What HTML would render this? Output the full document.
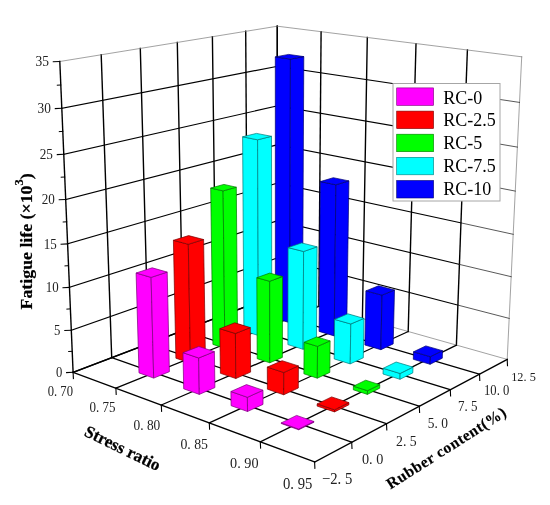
<!DOCTYPE html>
<html><head><meta charset="utf-8"><title>Fatigue life chart</title>
<style>
html,body{margin:0;padding:0;background:#fff;}
body{width:550px;height:505px;overflow:hidden;}
svg{display:block;font-family:'Liberation Serif','Noto Serif CJK SC',serif;}
</style></head><body>
<svg width="550" height="505" viewBox="0 0 550 505">
<rect width="550" height="505" fill="#fff"/>
<g stroke-linecap="square">
<line x1="73.1" y1="372.3" x2="59.8" y2="61.5" stroke="#000" stroke-width="1.4"/>
<line x1="111.7" y1="357.6" x2="101.2" y2="54.7" stroke="#000" stroke-width="1.4"/>
<line x1="148.3" y1="343.7" x2="140.3" y2="48.4" stroke="#000" stroke-width="1.4"/>
<line x1="183.0" y1="330.5" x2="177.3" y2="42.4" stroke="#000" stroke-width="1.4"/>
<line x1="216.0" y1="317.9" x2="212.4" y2="36.7" stroke="#000" stroke-width="1.4"/>
<line x1="247.4" y1="306.0" x2="245.7" y2="31.3" stroke="#000" stroke-width="1.4"/>
<line x1="277.3" y1="294.6" x2="277.3" y2="26.2" stroke="#000" stroke-width="1.4"/>
<line x1="73.1" y1="372.3" x2="277.3" y2="294.6" stroke="#000" stroke-width="1.3"/>
<line x1="71.3" y1="330.2" x2="277.3" y2="258.0" stroke="#000" stroke-width="1.15"/>
<line x1="69.5" y1="287.4" x2="277.3" y2="220.8" stroke="#000" stroke-width="1.15"/>
<line x1="67.6" y1="243.9" x2="277.3" y2="183.1" stroke="#000" stroke-width="1.15"/>
<line x1="65.7" y1="199.5" x2="277.3" y2="144.8" stroke="#000" stroke-width="1.15"/>
<line x1="63.8" y1="154.3" x2="277.3" y2="105.9" stroke="#000" stroke-width="1.15"/>
<line x1="61.8" y1="108.3" x2="277.3" y2="66.3" stroke="#000" stroke-width="1.15"/>
<line x1="59.8" y1="61.5" x2="277.3" y2="26.2" stroke="#7a7a7a" stroke-width="0.7"/>
<line x1="277.3" y1="294.6" x2="277.3" y2="26.2" stroke="#000" stroke-width="1.4"/>
<line x1="318.8" y1="306.3" x2="321.1" y2="31.7" stroke="#000" stroke-width="1.4"/>
<line x1="362.4" y1="318.6" x2="367.3" y2="37.5" stroke="#000" stroke-width="1.4"/>
<line x1="408.2" y1="331.5" x2="416.0" y2="43.6" stroke="#000" stroke-width="1.4"/>
<line x1="456.4" y1="345.1" x2="467.4" y2="50.0" stroke="#000" stroke-width="1.4"/>
<line x1="507.2" y1="359.4" x2="521.7" y2="56.8" stroke="#7a7a7a" stroke-width="0.7"/>
<line x1="277.3" y1="258.0" x2="457.9" y2="305.1" stroke="#000" stroke-width="1.1"/>
<line x1="457.9" y1="305.1" x2="509.2" y2="318.4" stroke="#222" stroke-width="0.75"/>
<line x1="277.3" y1="220.8" x2="459.4" y2="264.4" stroke="#000" stroke-width="1.1"/>
<line x1="459.4" y1="264.4" x2="511.2" y2="276.7" stroke="#222" stroke-width="0.75"/>
<line x1="277.3" y1="183.1" x2="461.0" y2="222.9" stroke="#000" stroke-width="1.1"/>
<line x1="461.0" y1="222.9" x2="513.2" y2="234.3" stroke="#222" stroke-width="0.75"/>
<line x1="277.3" y1="144.8" x2="462.5" y2="180.8" stroke="#000" stroke-width="1.1"/>
<line x1="462.5" y1="180.8" x2="515.3" y2="191.1" stroke="#222" stroke-width="0.75"/>
<line x1="277.3" y1="105.9" x2="464.1" y2="138.0" stroke="#000" stroke-width="1.1"/>
<line x1="464.1" y1="138.0" x2="517.4" y2="147.1" stroke="#222" stroke-width="0.75"/>
<line x1="277.3" y1="66.3" x2="465.7" y2="94.4" stroke="#000" stroke-width="1.1"/>
<line x1="465.7" y1="94.4" x2="519.5" y2="102.4" stroke="#222" stroke-width="0.75"/>
<line x1="277.3" y1="26.2" x2="521.7" y2="56.8" stroke="#7a7a7a" stroke-width="0.7"/>
<line x1="277.3" y1="294.6" x2="507.2" y2="359.4" stroke="#7a7a7a" stroke-width="0.7"/>
<line x1="73.1" y1="372.3" x2="277.3" y2="294.6" stroke="#000" stroke-width="1.3"/>
<line x1="115.9" y1="388.2" x2="318.8" y2="306.3" stroke="#000" stroke-width="1.3"/>
<line x1="161.3" y1="405.0" x2="362.4" y2="318.6" stroke="#000" stroke-width="1.3"/>
<line x1="209.3" y1="422.9" x2="408.2" y2="331.5" stroke="#000" stroke-width="1.3"/>
<line x1="260.3" y1="441.8" x2="456.4" y2="345.1" stroke="#000" stroke-width="1.3"/>
<line x1="314.6" y1="462.0" x2="507.2" y2="359.4" stroke="#000" stroke-width="1.3"/>
<line x1="73.1" y1="372.3" x2="314.6" y2="462.0" stroke="#000" stroke-width="1.3"/>
<line x1="111.7" y1="357.6" x2="351.7" y2="442.2" stroke="#000" stroke-width="1.3"/>
<line x1="148.3" y1="343.7" x2="386.5" y2="423.7" stroke="#000" stroke-width="1.3"/>
<line x1="183.0" y1="330.5" x2="419.3" y2="406.2" stroke="#000" stroke-width="1.3"/>
<line x1="216.0" y1="317.9" x2="450.3" y2="389.7" stroke="#000" stroke-width="1.3"/>
<line x1="247.4" y1="306.0" x2="479.5" y2="374.2" stroke="#000" stroke-width="1.3"/>
<line x1="73.1" y1="372.3" x2="66.6" y2="372.6" stroke="#000" stroke-width="1.1"/>
<line x1="72.2" y1="351.3" x2="68.7" y2="351.5" stroke="#000" stroke-width="1.0"/>
<line x1="71.3" y1="330.2" x2="64.8" y2="330.5" stroke="#000" stroke-width="1.1"/>
<line x1="70.4" y1="308.9" x2="66.9" y2="309.1" stroke="#000" stroke-width="1.0"/>
<line x1="69.5" y1="287.4" x2="63.0" y2="287.7" stroke="#000" stroke-width="1.1"/>
<line x1="68.5" y1="265.7" x2="65.0" y2="265.9" stroke="#000" stroke-width="1.0"/>
<line x1="67.6" y1="243.9" x2="61.1" y2="244.2" stroke="#000" stroke-width="1.1"/>
<line x1="66.7" y1="221.8" x2="63.2" y2="222.0" stroke="#000" stroke-width="1.0"/>
<line x1="65.7" y1="199.5" x2="59.2" y2="199.8" stroke="#000" stroke-width="1.1"/>
<line x1="64.7" y1="177.0" x2="61.2" y2="177.2" stroke="#000" stroke-width="1.0"/>
<line x1="63.8" y1="154.3" x2="57.3" y2="154.6" stroke="#000" stroke-width="1.1"/>
<line x1="62.8" y1="131.4" x2="59.3" y2="131.6" stroke="#000" stroke-width="1.0"/>
<line x1="61.8" y1="108.3" x2="55.3" y2="108.6" stroke="#000" stroke-width="1.1"/>
<line x1="60.8" y1="85.0" x2="57.3" y2="85.2" stroke="#000" stroke-width="1.0"/>
<line x1="59.8" y1="61.5" x2="53.3" y2="61.8" stroke="#000" stroke-width="1.1"/>
<line x1="73.1" y1="372.3" x2="73.4" y2="378.6" stroke="#000" stroke-width="1.1"/>
<line x1="115.9" y1="388.2" x2="116.2" y2="394.5" stroke="#000" stroke-width="1.1"/>
<line x1="161.3" y1="405.0" x2="161.6" y2="411.3" stroke="#000" stroke-width="1.1"/>
<line x1="209.3" y1="422.9" x2="209.6" y2="429.2" stroke="#000" stroke-width="1.1"/>
<line x1="260.3" y1="441.8" x2="260.6" y2="448.1" stroke="#000" stroke-width="1.1"/>
<line x1="314.6" y1="462.0" x2="314.9" y2="468.3" stroke="#000" stroke-width="1.1"/>
<line x1="351.7" y1="442.2" x2="352.0" y2="448.5" stroke="#000" stroke-width="1.1"/>
<line x1="386.5" y1="423.7" x2="386.8" y2="430.0" stroke="#000" stroke-width="1.1"/>
<line x1="419.3" y1="406.2" x2="419.6" y2="412.5" stroke="#000" stroke-width="1.1"/>
<line x1="450.3" y1="389.7" x2="450.6" y2="396.0" stroke="#000" stroke-width="1.1"/>
<line x1="479.5" y1="374.2" x2="479.8" y2="380.5" stroke="#000" stroke-width="1.1"/>
<line x1="507.2" y1="359.4" x2="507.5" y2="365.7" stroke="#000" stroke-width="1.1"/>
</g>
<g stroke-width="0.7" stroke-linejoin="round">
<polygon points="275.4,318.5 289.8,322.7 290.4,59.1 275.3,56.9" fill="#0000ff" stroke="#000070"/>
<polygon points="289.8,322.7 302.5,317.5 303.8,56.6 290.4,59.1" fill="#0000ff" stroke="#000070"/>
<polygon points="275.3,56.9 290.4,59.1 303.8,56.6 288.7,54.4" fill="#0000ff" stroke="#000070"/>
<polygon points="243.9,331.0 258.4,335.5 257.6,139.8 242.6,136.8" fill="#00ffff" stroke="#007a7a"/>
<polygon points="258.4,335.5 271.8,330.1 271.5,136.3 257.6,139.8" fill="#00ffff" stroke="#007a7a"/>
<polygon points="242.6,136.8 257.6,139.8 271.5,136.3 256.5,133.4" fill="#00ffff" stroke="#007a7a"/>
<polygon points="319.1,331.4 334.2,335.9 335.9,184.8 320.3,181.6" fill="#0000ff" stroke="#000070"/>
<polygon points="334.2,335.9 346.7,330.4 348.9,180.9 335.9,184.8" fill="#0000ff" stroke="#000070"/>
<polygon points="320.3,181.6 335.9,184.8 348.9,180.9 333.3,177.7" fill="#0000ff" stroke="#000070"/>
<polygon points="212.9,344.4 224.9,348.3 223.1,190.9 210.7,188.1" fill="#00ff00" stroke="#007a00"/>
<polygon points="224.9,348.3 237.6,343.1 236.3,187.2 223.1,190.9" fill="#00ff00" stroke="#007a00"/>
<polygon points="210.7,188.1 223.1,190.9 236.3,187.2 223.9,184.4" fill="#00ff00" stroke="#007a00"/>
<polygon points="287.9,344.6 303.1,349.3 303.6,251.5 288.1,247.6" fill="#00ffff" stroke="#007a7a"/>
<polygon points="303.1,349.3 316.4,343.6 317.1,246.8 303.6,251.5" fill="#00ffff" stroke="#007a7a"/>
<polygon points="288.1,247.6 303.6,251.5 317.1,246.8 301.6,242.9" fill="#00ffff" stroke="#007a7a"/>
<polygon points="364.9,345.0 380.9,349.7 382.0,295.2 365.9,290.9" fill="#0000ff" stroke="#000070"/>
<polygon points="380.9,349.7 393.2,343.9 394.5,290.0 382.0,295.2" fill="#0000ff" stroke="#000070"/>
<polygon points="365.9,290.9 382.0,295.2 394.5,290.0 378.5,285.8" fill="#0000ff" stroke="#000070"/>
<polygon points="175.9,358.2 190.5,363.2 188.3,244.3 173.4,240.3" fill="#ff0000" stroke="#7a0000"/>
<polygon points="190.5,363.2 205.4,357.1 203.6,239.5 188.3,244.3" fill="#ff0000" stroke="#7a0000"/>
<polygon points="173.4,240.3 188.3,244.3 203.6,239.5 188.6,235.6" fill="#ff0000" stroke="#7a0000"/>
<polygon points="257.2,358.7 269.8,362.8 269.7,281.3 256.8,277.7" fill="#00ff00" stroke="#007a00"/>
<polygon points="269.8,362.8 282.4,357.4 282.5,276.5 269.7,281.3" fill="#00ff00" stroke="#007a00"/>
<polygon points="256.8,277.7 269.7,281.3 282.5,276.5 269.7,273.1" fill="#00ff00" stroke="#007a00"/>
<polygon points="334.2,358.9 350.2,363.9 350.8,324.0 334.6,319.4" fill="#00ffff" stroke="#007a7a"/>
<polygon points="350.2,363.9 363.3,357.8 364.0,318.4 350.8,324.0" fill="#00ffff" stroke="#007a7a"/>
<polygon points="334.6,319.4 350.8,324.0 364.0,318.4 347.9,313.8" fill="#00ffff" stroke="#007a7a"/>
<polygon points="413.3,359.3 430.1,364.3 430.3,356.7 413.5,351.8" fill="#0000ff" stroke="#000070"/>
<polygon points="430.1,364.3 442.3,358.2 442.5,350.7 430.3,356.7" fill="#0000ff" stroke="#000070"/>
<polygon points="413.5,351.8 430.3,356.7 442.5,350.7 425.8,345.9" fill="#0000ff" stroke="#000070"/>
<polygon points="139.0,372.9 153.7,378.1 151.1,277.4 136.1,273.0" fill="#ff00ff" stroke="#7a007a"/>
<polygon points="153.7,378.1 169.4,371.7 167.2,272.1 151.1,277.4" fill="#ff00ff" stroke="#7a007a"/>
<polygon points="136.1,273.0 151.1,277.4 167.2,272.1 152.2,267.8" fill="#ff00ff" stroke="#7a007a"/>
<polygon points="220.4,373.3 235.8,378.5 235.4,333.5 219.8,328.7" fill="#ff0000" stroke="#7a0000"/>
<polygon points="235.8,378.5 250.6,372.1 250.3,327.6 235.4,333.5" fill="#ff0000" stroke="#7a0000"/>
<polygon points="219.8,328.7 235.4,333.5 250.3,327.6 234.8,322.8" fill="#ff0000" stroke="#7a0000"/>
<polygon points="303.9,373.8 317.3,378.2 317.5,346.4 304.1,342.3" fill="#00ff00" stroke="#007a00"/>
<polygon points="317.3,378.2 329.8,372.4 330.1,340.9 317.5,346.4" fill="#00ff00" stroke="#007a00"/>
<polygon points="304.1,342.3 317.5,346.4 330.1,340.9 316.7,336.9" fill="#00ff00" stroke="#007a00"/>
<polygon points="383.0,374.0 400.0,379.3 400.1,373.5 383.2,368.3" fill="#00ffff" stroke="#007a7a"/>
<polygon points="400.0,379.3 412.8,372.9 413.0,367.1 400.1,373.5" fill="#00ffff" stroke="#007a7a"/>
<polygon points="383.2,368.3 400.1,373.5 413.0,367.1 396.1,362.0" fill="#00ffff" stroke="#007a7a"/>
<polygon points="183.7,388.8 199.3,394.4 198.7,358.0 183.0,352.7" fill="#ff00ff" stroke="#7a007a"/>
<polygon points="199.3,394.4 214.9,387.6 214.4,351.6 198.7,358.0" fill="#ff00ff" stroke="#7a007a"/>
<polygon points="183.0,352.7 198.7,358.0 214.4,351.6 198.8,346.5" fill="#ff00ff" stroke="#7a007a"/>
<polygon points="267.4,389.2 283.7,394.8 283.8,372.5 267.3,367.1" fill="#ff0000" stroke="#7a0000"/>
<polygon points="283.7,394.8 298.3,388.0 298.4,365.9 283.8,372.5" fill="#ff0000" stroke="#7a0000"/>
<polygon points="267.3,367.1 283.8,372.5 298.4,365.9 282.1,360.7" fill="#ff0000" stroke="#7a0000"/>
<polygon points="353.3,389.8 367.4,394.4 367.5,390.7 353.4,386.2" fill="#00ff00" stroke="#007a00"/>
<polygon points="367.4,394.4 379.7,388.2 379.8,384.7 367.5,390.7" fill="#00ff00" stroke="#007a00"/>
<polygon points="353.4,386.2 367.5,390.7 379.8,384.7 365.7,380.2" fill="#00ff00" stroke="#007a00"/>
<polygon points="231.1,405.7 247.5,411.5 247.4,397.3 230.9,391.5" fill="#ff00ff" stroke="#7a007a"/>
<polygon points="247.5,411.5 263.0,404.4 263.0,390.2 247.4,397.3" fill="#ff00ff" stroke="#7a007a"/>
<polygon points="230.9,391.5 247.4,397.3 263.0,390.2 246.5,384.6" fill="#ff00ff" stroke="#7a007a"/>
<polygon points="317.1,406.1 334.5,411.9 334.5,409.8 317.2,403.9" fill="#ff0000" stroke="#7a0000"/>
<polygon points="334.5,411.9 348.9,404.8 348.9,402.6 334.5,409.8" fill="#ff0000" stroke="#7a0000"/>
<polygon points="317.2,403.9 334.5,409.8 348.9,402.6 331.6,396.9" fill="#ff0000" stroke="#7a0000"/>
<polygon points="281.2,423.5 298.7,429.8 298.7,429.1 281.2,422.9" fill="#ff00ff" stroke="#7a007a"/>
<polygon points="298.7,429.8 314.0,422.2 314.0,421.5 298.7,429.1" fill="#ff00ff" stroke="#7a007a"/>
<polygon points="281.2,422.9 298.7,429.1 314.0,421.5 296.6,415.4" fill="#ff00ff" stroke="#7a007a"/>
</g>
<text transform="translate(56.0,377.2) scale(0.91,1)" font-size="13.90" fill="#222">0</text>
<text transform="translate(54.1,335.1) scale(0.91,1)" font-size="14.02" fill="#222">5</text>
<text transform="translate(45.8,292.3) scale(0.91,1)" font-size="14.15" fill="#222">10</text>
<text transform="translate(43.8,248.8) scale(0.91,1)" font-size="14.27" fill="#222">15</text>
<text transform="translate(41.8,204.4) scale(0.91,1)" font-size="14.40" fill="#222">20</text>
<text transform="translate(39.7,159.2) scale(0.91,1)" font-size="14.53" fill="#222">25</text>
<text transform="translate(37.6,113.2) scale(0.91,1)" font-size="14.67" fill="#222">30</text>
<text transform="translate(35.5,66.4) scale(0.91,1)" font-size="14.80" fill="#222">35</text>
<text transform="translate(47.7,395.8) scale(0.91,1)" font-size="13.90" fill="#222">0.<tspan dx="3.48">70</tspan></text>
<text transform="translate(89.4,412.3) scale(0.91,1)" font-size="14.29" fill="#222">0.<tspan dx="3.57">75</tspan></text>
<text transform="translate(133.5,429.9) scale(0.91,1)" font-size="14.71" fill="#222">0.<tspan dx="3.68">80</tspan></text>
<text transform="translate(180.4,448.5) scale(0.91,1)" font-size="15.15" fill="#222">0.<tspan dx="3.79">85</tspan></text>
<text transform="translate(230.1,468.2) scale(0.91,1)" font-size="15.62" fill="#222">0.<tspan dx="3.91">90</tspan></text>
<text transform="translate(283.0,489.2) scale(0.91,1)" font-size="16.12" fill="#222">0.<tspan dx="4.03">95</tspan></text>
<text transform="translate(322.0,483.5) scale(0.91,1)" font-size="16.12" fill="#222">−2.<tspan dx="4.03">5</tspan></text>
<text transform="translate(362.0,464.0) scale(0.91,1)" font-size="15.62" fill="#222">0.<tspan dx="3.91">0</tspan></text>
<text transform="translate(396.0,445.6) scale(0.91,1)" font-size="15.15" fill="#222">2.<tspan dx="3.79">5</tspan></text>
<text transform="translate(427.8,427.8) scale(0.91,1)" font-size="14.71" fill="#222">5.<tspan dx="3.68">0</tspan></text>
<text transform="translate(458.0,410.7) scale(0.91,1)" font-size="14.29" fill="#222">7.<tspan dx="3.57">5</tspan></text>
<text transform="translate(484.0,395.1) scale(0.91,1)" font-size="13.90" fill="#222">10.<tspan dx="3.47">0</tspan></text>
<text transform="translate(511.2,380.7) scale(0.91,1)" font-size="13.52" fill="#222">12.<tspan dx="3.38">5</tspan></text>
<text transform="translate(31.6,309.4) rotate(-90) scale(1.035,1)" font-size="17.2" font-weight="bold" stroke="#000" stroke-width="0.2">Fatigue life (×10<tspan font-size="12" dy="-8.7">3</tspan><tspan dy="8.7">)</tspan></text>
<text transform="translate(83.2,435.2) rotate(26)" font-size="17" font-weight="bold" stroke="#000" stroke-width="0.25">Stress ratio</text>
<text transform="translate(390.6,489.6) rotate(-32.5)" font-size="15.6" letter-spacing="0.52" font-weight="bold" stroke="#000" stroke-width="0.15">Rubber content(%)</text>
<rect x="393" y="83.5" width="107" height="117.5" fill="#fff" stroke="#a6a6a6" stroke-width="1"/>
<rect x="396.7" y="87.9" width="36.9" height="17.5" fill="#ff00ff" stroke="#7a007a" stroke-width="0.6"/>
<text x="443.2" y="103.5" font-size="18" fill="#000">RC-0</text>
<rect x="396.7" y="111.1" width="36.9" height="17.5" fill="#ff0000" stroke="#7a0000" stroke-width="0.6"/>
<text x="443.2" y="126.4" font-size="18" fill="#000">RC-2.5</text>
<rect x="396.7" y="134.2" width="36.9" height="17.5" fill="#00ff00" stroke="#007a00" stroke-width="0.6"/>
<text x="443.2" y="149.3" font-size="18" fill="#000">RC-5</text>
<rect x="396.7" y="157.3" width="36.9" height="17.5" fill="#00ffff" stroke="#007a7a" stroke-width="0.6"/>
<text x="443.2" y="172.2" font-size="18" fill="#000">RC-7.5</text>
<rect x="396.7" y="180.5" width="36.9" height="17.5" fill="#0000ff" stroke="#000070" stroke-width="0.6"/>
<text x="443.2" y="195.1" font-size="18" fill="#000">RC-10</text>
</svg>
</body></html>
